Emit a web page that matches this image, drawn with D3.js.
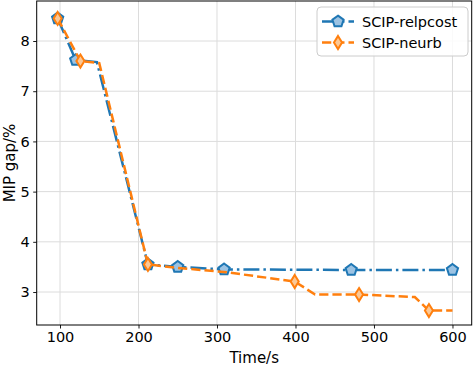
<!DOCTYPE html>
<html><head><meta charset="utf-8">
<script src="https://cdn.jsdelivr.net/npm/d3@7"></script>
<style>html,body{margin:0;padding:0;background:#fff;}svg{display:block;font-family:"DejaVu Sans",sans-serif;}</style>
</head><body>
<script>
// Data
const relpTime = [97, 120, 147, 212, 250, 309, 471, 600];
const relpGap  = [8.45, 7.62, 7.58, 3.55, 3.50, 3.45, 3.44, 3.44];
const relpMark = [true, true, false, true, true, true, true, true];

const neurbTime = [97, 126, 150, 212, 250, 309, 399, 425, 481, 552, 570, 600];
const neurbGap  = [8.45, 7.60, 7.56, 3.55, 3.48, 3.40, 3.21, 2.95, 2.95, 2.90, 2.63, 2.63];
const neurbMark = [true, true, false, true, false, false, true, false, true, false, true, false];

const xTicks = [100, 200, 300, 400, 500, 600];
const yTicks = [3, 4, 5, 6, 7, 8];
const seriesNames = ["SCIP-relpcost", "SCIP-neurb"];

const W = 474, H = 366;
const L = 36.7, R = 471.7, T = 1, B = 325;
const svg = d3.select("body").append("svg").attr("width", W).attr("height", H);

const x = d3.scaleLinear().domain([70.3, 624.5]).range([L, R]);
const y = d3.scaleLinear().domain([2.343, 8.797]).range([B, T]);

// grid
const g = svg.append("g");
g.selectAll(".gx").data(xTicks).enter().append("line")
  .attr("x1", d => x(d)).attr("x2", d => x(d)).attr("y1", T).attr("y2", B)
  .attr("stroke", "#dcdcdc").attr("stroke-width", 1);
g.selectAll(".gy").data(yTicks).enter().append("line")
  .attr("y1", d => y(d)).attr("y2", d => y(d)).attr("x1", L).attr("x2", R)
  .attr("stroke", "#dcdcdc").attr("stroke-width", 1);

// series
const blue = "#1f77b4", orange = "#ff7f0e";
function pts(t, v) { return t.map((d, i) => [d, v[i]]); }
const line = d3.line().x(d => x(d[0])).y(d => y(d[1]));
svg.append("clipPath").attr("id", "c").append("rect")
  .attr("x", L).attr("y", T).attr("width", R - L).attr("height", B - T);
const plot = svg.append("g").attr("clip-path", "url(#c)");

const pentagon = d3.symbol().type({
  draw(ctx, size) {
    const r = Math.sqrt(size) * 0.62;
    for (let i = 0; i < 5; i++) {
      const a = -Math.PI / 2 + i * 2 * Math.PI / 5;
      const px = r * Math.cos(a), py = r * Math.sin(a);
      i ? ctx.lineTo(px, py) : ctx.moveTo(px, py);
    }
    ctx.closePath();
  }
}).size(90);
const thinDiamond = d3.symbol().type({
  draw(ctx, size) {
    const h = Math.sqrt(size) * 0.62, w = h * 0.62;
    ctx.moveTo(0, -h); ctx.lineTo(w, 0); ctx.lineTo(0, h); ctx.lineTo(-w, 0); ctx.closePath();
  }
}).size(110);

function drawSeries(t, v, marks, color, fillc, dash, sym) {
  const p = pts(t, v);
  plot.append("path").datum(p).attr("d", line).attr("fill", "none")
    .attr("stroke", color).attr("stroke-width", 2.5).attr("stroke-dasharray", dash);
  plot.selectAll(null).data(p.filter((d, i) => marks[i])).enter().append("path")
    .attr("d", sym).attr("transform", d => `translate(${x(d[0])},${y(d[1])})`)
    .attr("fill", fillc).attr("stroke", color).attr("stroke-width", 2);
}
drawSeries(relpTime, relpGap, relpMark, blue, "#9cc3e3", "16,4,2.5,4", pentagon);
drawSeries(neurbTime, neurbGap, neurbMark, orange, "#fbc896", "9.25,4", thinDiamond);

// axes
const xa = svg.append("g").attr("transform", `translate(0,${B})`)
  .call(d3.axisBottom(x).tickValues(xTicks).tickSize(3.5).tickPadding(3).tickFormat(d3.format("d")));
const ya = svg.append("g").attr("transform", `translate(${L},0)`)
  .call(d3.axisLeft(y).tickValues(yTicks).tickSize(3.5).tickPadding(3.5).tickFormat(d3.format("d")));
[xa, ya].forEach(a => {
  a.select(".domain").remove();
  a.selectAll("text").attr("font-size", 14.5).attr("fill", "#000").attr("font-family", "DejaVu Sans");
  a.selectAll("line").attr("stroke", "#000").attr("stroke-width", 0.9);
});
svg.append("rect").attr("x", L).attr("y", T).attr("width", R - L).attr("height", B - T)
  .attr("fill", "none").attr("stroke", "#000").attr("stroke-width", 1);

svg.append("text").attr("x", (L + R) / 2).attr("y", 363).attr("text-anchor", "middle")
  .attr("font-size", 15).text("Time/s");
svg.append("text").attr("transform", `translate(15,${(T + B) / 2}) rotate(-90)`)
  .attr("text-anchor", "middle").attr("font-size", 15).text("MIP gap/%");

// legend
const lg = svg.append("g");
lg.append("rect").attr("x", 317).attr("y", 7).attr("width", 151).attr("height", 49).attr("rx", 4)
  .attr("fill", "#fff").attr("fill-opacity", 0.85).attr("stroke", "#cccccc").attr("stroke-width", 1);
const legendItems = [
  {name: seriesNames[0], color: blue, fill: "#9cc3e3", dash: "16,4,2.5,4", sym: pentagon},
  {name: seriesNames[1], color: orange, fill: "#fbc896", dash: "9.25,4", sym: thinDiamond}
];
legendItems.forEach((d, i) => {
  const cy = 21.5 + i * 21;
  lg.append("line").attr("x1", 322).attr("x2", 354).attr("y1", cy).attr("y2", cy)
    .attr("stroke", d.color).attr("stroke-width", 2.5).attr("stroke-dasharray", d.dash);
  lg.append("path").attr("d", d.sym).attr("transform", `translate(338,${cy})`)
    .attr("fill", d.fill).attr("stroke", d.color).attr("stroke-width", 2);
  lg.append("text").attr("x", 362).attr("y", cy + 5.2).attr("font-size", 14.5).text(d.name);
});
</script>
</body></html>
